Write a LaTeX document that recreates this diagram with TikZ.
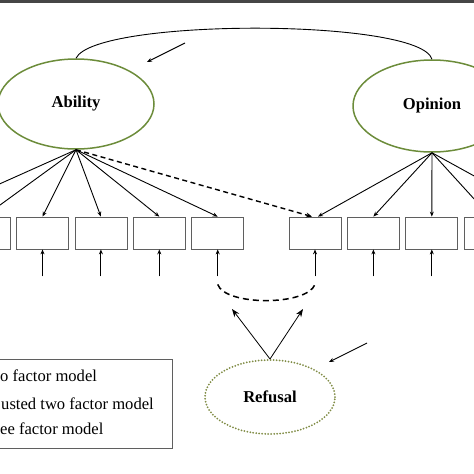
\documentclass[tikz,border=0pt]{standalone}
\usepackage{fontspec}
\setmainfont{Liberation Serif}
\usetikzlibrary{arrows.meta,shapes.geometric}
\definecolor{facgreen}{RGB}{108,140,58}
\definecolor{dotgreen}{RGB}{128,140,70}
\definecolor{boxgray}{RGB}{95,95,95}
\definecolor{topbar}{RGB}{70,70,70}

\begin{document}
\begin{tikzpicture}[x=1pt, y=-1pt,
    latent/.style={draw=facgreen, line width=1.5pt, ellipse, inner sep=0pt, font=\fontsize{16.6}{20}\selectfont\bfseries},
    indicator/.style={draw=boxgray, line width=0.8pt, rectangle, minimum width=52pt, minimum height=32pt, inner sep=0pt},
    load/.style={-{Stealth[length=5pt,width=4pt]}, line width=0.9pt},
    cross/.style={-{Stealth[length=6pt,width=5pt]}, line width=1.4pt, dash pattern=on 5pt off 3.5pt},
    cov/.style={line width=1.5pt, dash pattern=on 6pt off 4pt},
    legtext/.style={anchor=base west, inner sep=0pt, font=\fontsize{16.6}{20}\selectfont}
]
\useasboundingbox (0,0) rectangle (474,474);
\clip (0,0) rectangle (474,474);
\fill[topbar] (0,0) rectangle (474,2.5);

% facteurs
\node[latent, minimum width=156pt, minimum height=90pt] (ability) at (76,104) {Ability};
\node[latent, minimum width=158pt, minimum height=92pt] (opinion) at (432,106) {Opinion};
\node[latent, draw=dotgreen, line width=2pt, line cap=round, dash pattern=on 0pt off 3pt, minimum width=130pt, minimum height=74pt] (refusal) at (270,397) {Refusal};

% indicateurs
\foreach \i/\x in {0/-15.9, 1/42.5, 2/100.9, 3/159.3, 4/217.7, 5/315, 6/373.4, 7/431.8, 8/490.2} {
    \node[indicator] (box\i) at (\x,233) {};
}

% erreurs
\foreach \i in {1,...,7} {
    \coordinate (err\i) at ([yshift=-27pt]box\i.south);
    \draw[load] (err\i) -- (box\i.south);
}

% saturations
\coordinate (offL) at (-74.3,217);
\coordinate (offR) at (548.6,217);
\foreach \i in {0,...,4} {
    \draw[load] (ability.south) -- (box\i.north);
}
\draw[load] (ability.south) -- (offL);
\draw[cross] (ability.south) -- ([xshift=-3pt]box5.north);
\draw[load] (opinion.south) -- ([xshift=3pt]box5.north);
\foreach \i in {6,7,8} {
    \draw[load] (opinion.south) -- (box\i.north);
}
\draw[load] (opinion.south) -- (offR);

% covariance des facteurs
\draw[line width=0.9pt] (ability.north) .. controls (95,18) and (420,18) .. (opinion.north);
\coordinate (d1s) at (185,43);
\coordinate (d1e) at (147,62);
\draw[load] (d1s) -- (d1e);

% covariance des erreurs
\coordinate (cov1) at ([yshift=-8pt]err4);
\coordinate (cov2) at ([yshift=-8pt]err5);
\draw[cov] (cov1) .. controls (225,306) and (307,306) .. (cov2);

% refus
\coordinate (r1) at (232,309);
\coordinate (r2) at (303,309);
\draw[-{Stealth[length=8pt,width=6pt]}, line width=0.8pt] (refusal.north) -- (r1);
\draw[-{Stealth[length=8pt,width=6pt]}, line width=0.8pt] (refusal.north) -- (r2);
\coordinate (d2s) at (367,343);
\coordinate (d2e) at (329,362);
\draw[load] (d2s) -- (d2e);

% legende
\draw[boxgray, line width=0.9pt] (-40,359) rectangle (172,448);
\node[legtext] (leg1) at (0,381) {o factor model};
\node[legtext] (leg2) at (1,409) {usted two factor model};
\node[legtext] (leg3) at (0,434) {ee factor model};
\end{tikzpicture}
\end{document}
